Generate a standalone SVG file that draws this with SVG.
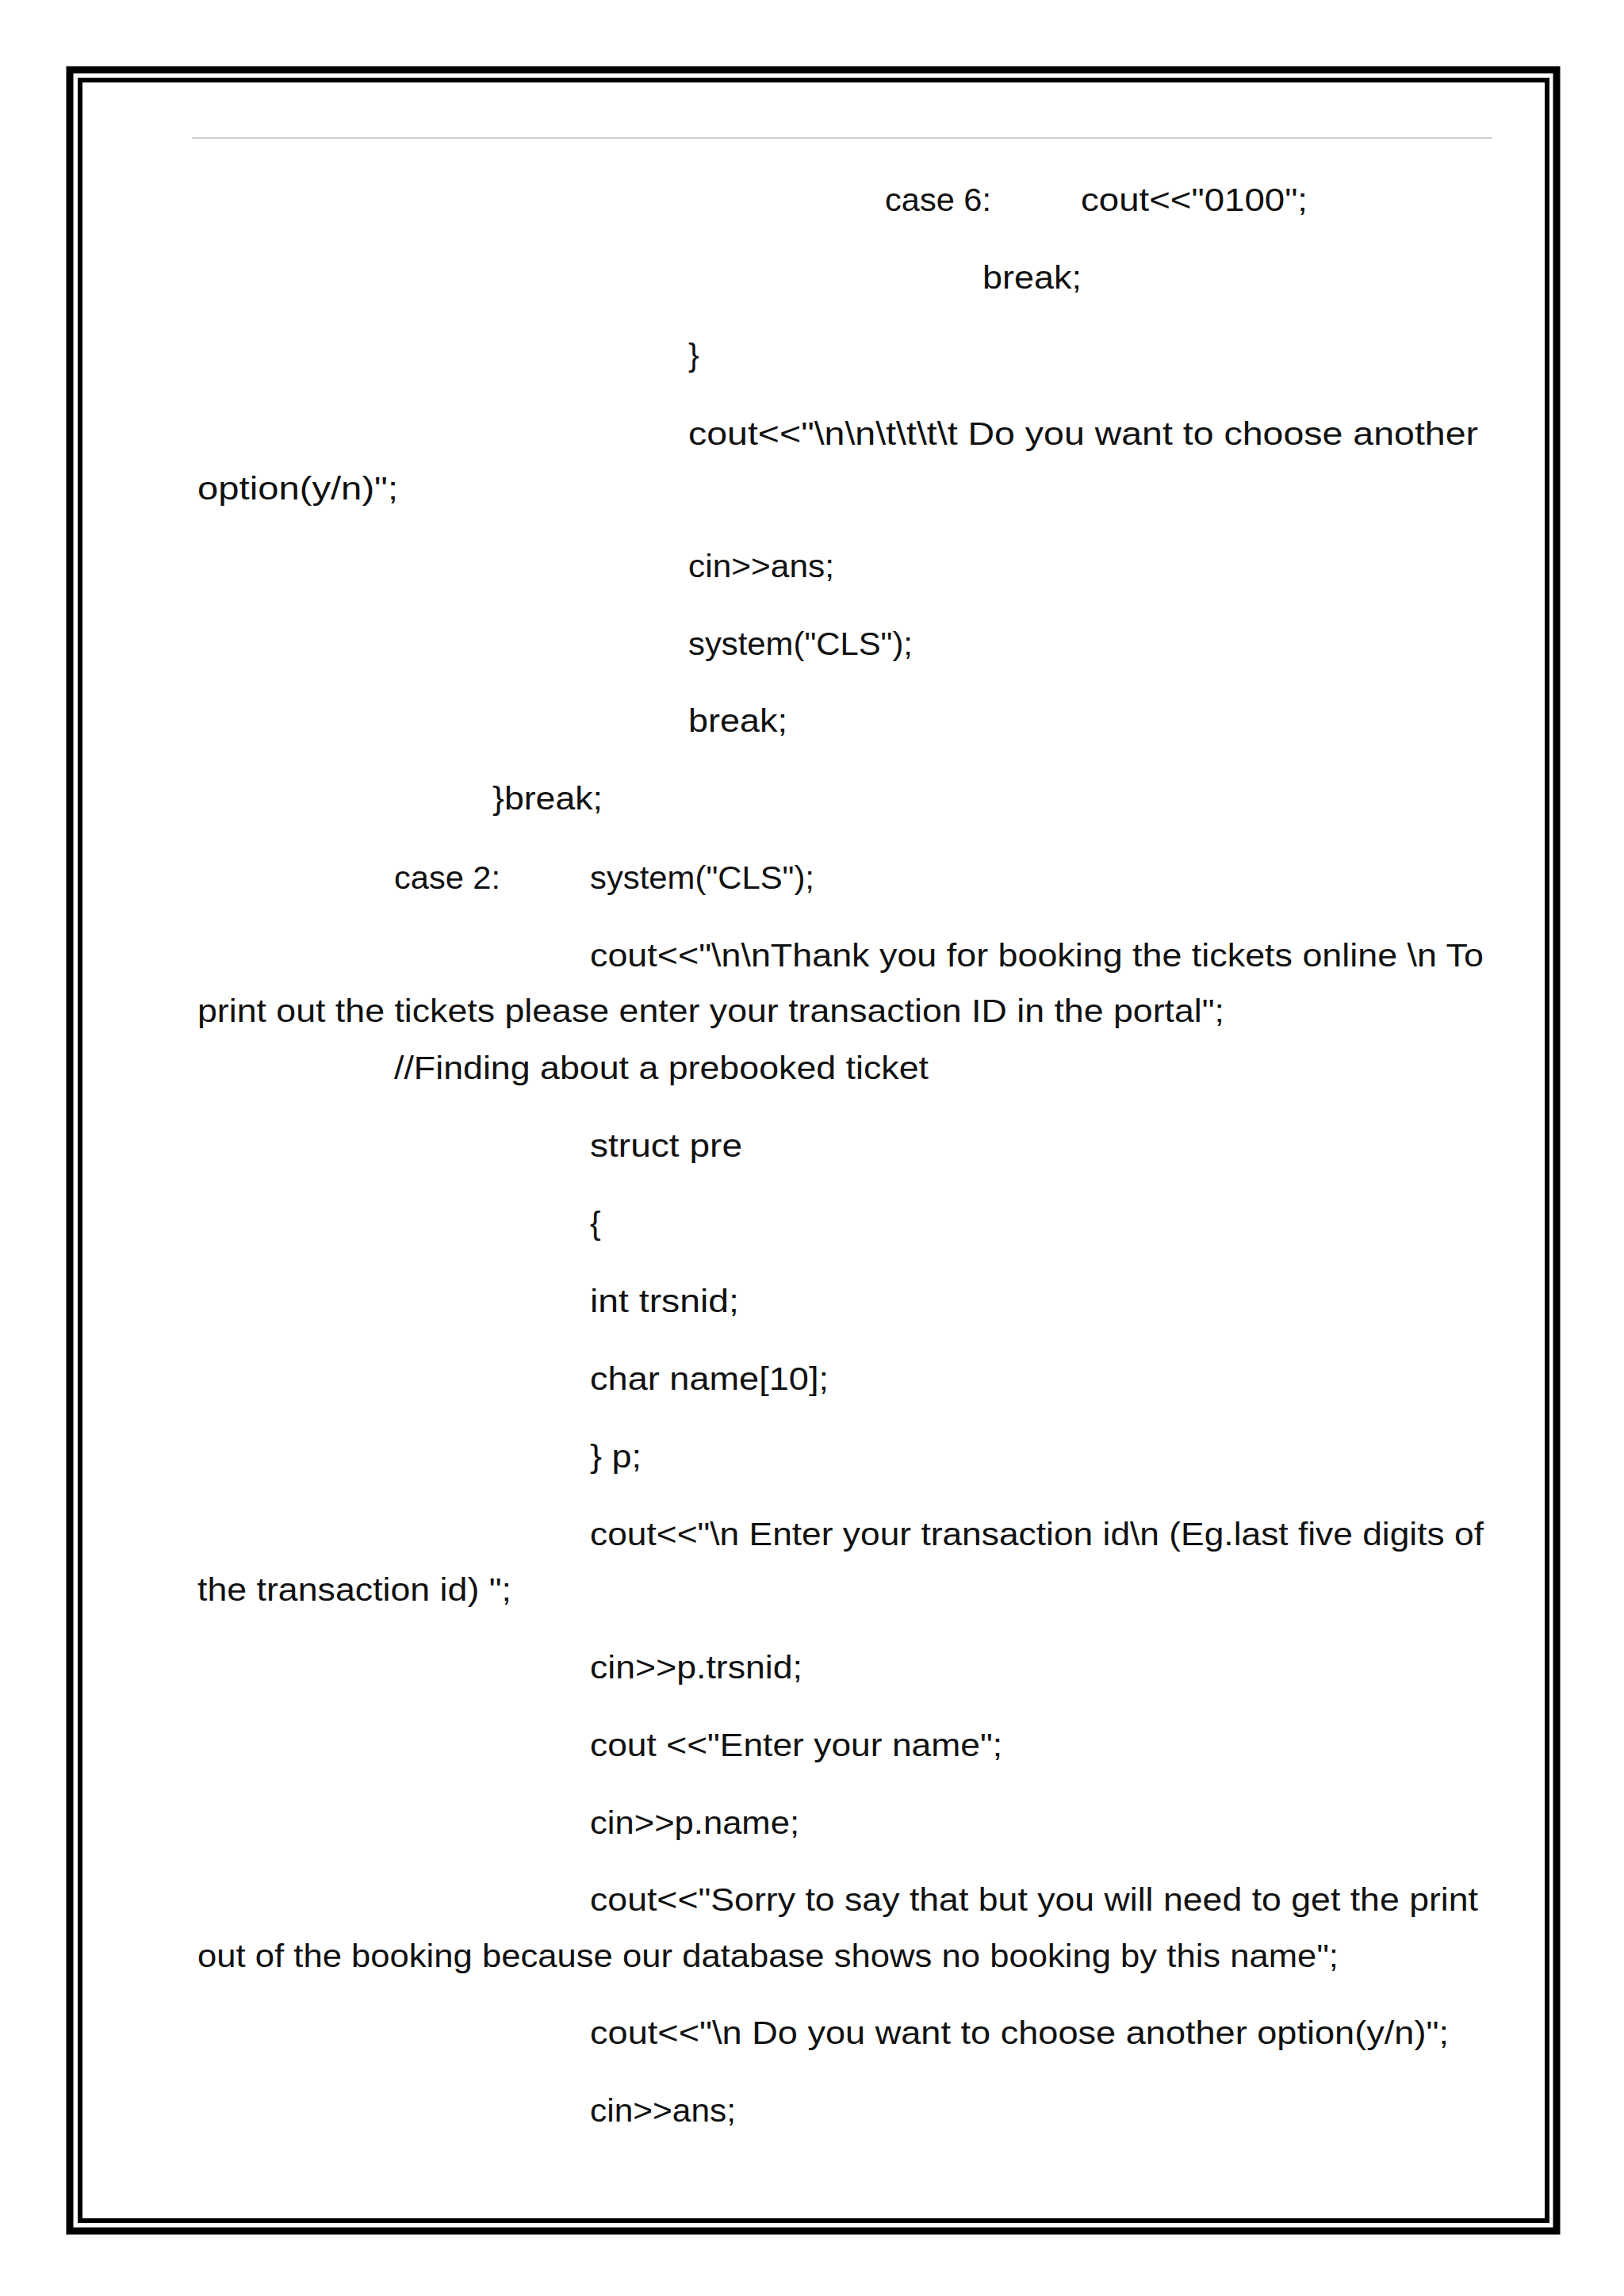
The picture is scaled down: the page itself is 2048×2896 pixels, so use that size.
<svg xmlns="http://www.w3.org/2000/svg" width="2048" height="2896" viewBox="0 0 2048 2896">
<style>
text{font-family:"Liberation Sans",Arial,sans-serif;font-size:41px;fill:#111;}
</style>
<rect width="2048" height="2896" fill="#fff"/>
<g id="border" fill="none" stroke="#000">
<rect x="88" y="88" width="1875" height="2726" stroke-width="9"/>
<rect x="101" y="101" width="1850" height="2700" stroke-width="6"/>
</g>
<line x1="242" y1="174" x2="1882" y2="174" stroke="#d0d0d0" stroke-width="2"/>
<g id="code">
<text x="1116" y="266" textLength="134" lengthAdjust="spacingAndGlyphs">case 6:</text><text x="1363" y="266" textLength="286" lengthAdjust="spacingAndGlyphs">cout&lt;&lt;"0100";</text>
<text x="1239" y="364" textLength="125" lengthAdjust="spacingAndGlyphs">break;</text>
<text x="868" y="462">}</text>
<text x="868" y="561" textLength="996" lengthAdjust="spacingAndGlyphs">cout&lt;&lt;"\n\n\t\t\t\t Do you want to choose another</text>
<text x="249" y="630" textLength="253" lengthAdjust="spacingAndGlyphs">option(y/n)";</text>
<text x="868" y="728" textLength="184" lengthAdjust="spacingAndGlyphs">cin&gt;&gt;ans;</text>
<text x="868" y="826" textLength="283" lengthAdjust="spacingAndGlyphs">system("CLS");</text>
<text x="868" y="923" textLength="125" lengthAdjust="spacingAndGlyphs">break;</text>
<text x="621" y="1021" textLength="139" lengthAdjust="spacingAndGlyphs">}break;</text>
<text x="497" y="1121" textLength="134" lengthAdjust="spacingAndGlyphs">case 2:</text><text x="744" y="1121" textLength="283" lengthAdjust="spacingAndGlyphs">system("CLS");</text>
<text x="744" y="1219" textLength="1127" lengthAdjust="spacingAndGlyphs">cout&lt;&lt;"\n\nThank you for booking the tickets online \n To</text>
<text x="249" y="1289" textLength="1295" lengthAdjust="spacingAndGlyphs">print out the tickets please enter your transaction ID in the portal";</text>
<text x="497" y="1361" textLength="674" lengthAdjust="spacingAndGlyphs">//Finding about a prebooked ticket</text>
<text x="744" y="1459" textLength="192" lengthAdjust="spacingAndGlyphs">struct pre</text>
<text x="744" y="1557">{</text>
<text x="744" y="1655" textLength="188" lengthAdjust="spacingAndGlyphs">int trsnid;</text>
<text x="744" y="1753" textLength="301" lengthAdjust="spacingAndGlyphs">char name[10];</text>
<text x="744" y="1851" textLength="65" lengthAdjust="spacingAndGlyphs">} p;</text>
<text x="744" y="1949" textLength="1127" lengthAdjust="spacingAndGlyphs">cout&lt;&lt;"\n Enter your transaction id\n (Eg.last five digits of</text>
<text x="249" y="2019" textLength="396" lengthAdjust="spacingAndGlyphs">the transaction id) ";</text>
<text x="744" y="2117" textLength="268" lengthAdjust="spacingAndGlyphs">cin&gt;&gt;p.trsnid;</text>
<text x="744" y="2215" textLength="520" lengthAdjust="spacingAndGlyphs">cout &lt;&lt;"Enter your name";</text>
<text x="744" y="2313" textLength="264" lengthAdjust="spacingAndGlyphs">cin&gt;&gt;p.name;</text>
<text x="744" y="2410" textLength="1120" lengthAdjust="spacingAndGlyphs">cout&lt;&lt;"Sorry to say that but you will need to get the print</text>
<text x="249" y="2481" textLength="1439" lengthAdjust="spacingAndGlyphs">out of the booking because our database shows no booking by this name";</text>
<text x="744" y="2578" textLength="1083" lengthAdjust="spacingAndGlyphs">cout&lt;&lt;"\n Do you want to choose another option(y/n)";</text>
<text x="744" y="2676" textLength="184" lengthAdjust="spacingAndGlyphs">cin&gt;&gt;ans;</text>
</g>
</svg>
